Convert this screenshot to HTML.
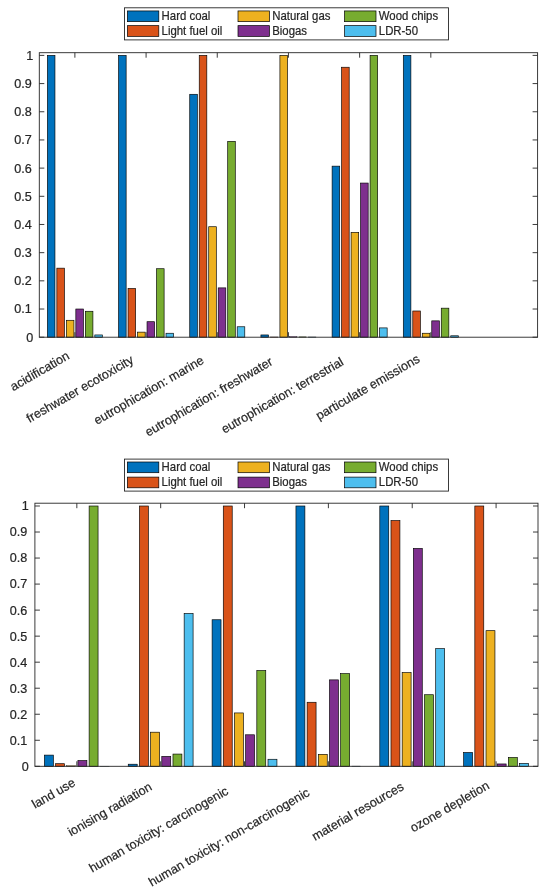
<!DOCTYPE html><html><head><meta charset="utf-8"><title>chart</title><style>html,body{margin:0;padding:0;background:#fff}svg{display:block}text{stroke:#262626;stroke-width:0.22px;font-family:"Liberation Sans",sans-serif;fill:#262626}</style></head><body>
<svg width="550" height="895" viewBox="0 0 550 895">
<rect width="550" height="895" fill="#fff"/>
<rect x="47.37" y="55.40" width="7.59" height="281.80" fill="#0072BD" stroke="#000" stroke-width="0.65"/>
<rect x="56.86" y="268.16" width="7.59" height="69.04" fill="#D95319" stroke="#000" stroke-width="0.65"/>
<rect x="66.35" y="320.29" width="7.59" height="16.91" fill="#EDB120" stroke="#000" stroke-width="0.65"/>
<rect x="75.84" y="309.02" width="7.59" height="28.18" fill="#7E2F8E" stroke="#000" stroke-width="0.65"/>
<rect x="85.33" y="311.27" width="7.59" height="25.93" fill="#77AC30" stroke="#000" stroke-width="0.65"/>
<rect x="94.82" y="334.95" width="7.59" height="2.25" fill="#4DBEEE" stroke="#000" stroke-width="0.65"/>
<rect x="118.55" y="55.40" width="7.59" height="281.80" fill="#0072BD" stroke="#000" stroke-width="0.65"/>
<rect x="128.04" y="288.45" width="7.59" height="48.75" fill="#D95319" stroke="#000" stroke-width="0.65"/>
<rect x="137.54" y="332.13" width="7.59" height="5.07" fill="#EDB120" stroke="#000" stroke-width="0.65"/>
<rect x="147.03" y="321.70" width="7.59" height="15.50" fill="#7E2F8E" stroke="#000" stroke-width="0.65"/>
<rect x="156.52" y="268.72" width="7.59" height="68.48" fill="#77AC30" stroke="#000" stroke-width="0.65"/>
<rect x="166.01" y="333.25" width="7.59" height="3.95" fill="#4DBEEE" stroke="#000" stroke-width="0.65"/>
<rect x="189.74" y="94.29" width="7.59" height="242.91" fill="#0072BD" stroke="#000" stroke-width="0.65"/>
<rect x="199.23" y="55.40" width="7.59" height="281.80" fill="#D95319" stroke="#000" stroke-width="0.65"/>
<rect x="208.72" y="226.73" width="7.59" height="110.47" fill="#EDB120" stroke="#000" stroke-width="0.65"/>
<rect x="218.21" y="287.88" width="7.59" height="49.31" fill="#7E2F8E" stroke="#000" stroke-width="0.65"/>
<rect x="227.70" y="141.35" width="7.59" height="195.85" fill="#77AC30" stroke="#000" stroke-width="0.65"/>
<rect x="237.20" y="326.77" width="7.59" height="10.43" fill="#4DBEEE" stroke="#000" stroke-width="0.65"/>
<rect x="260.92" y="334.95" width="7.59" height="2.25" fill="#0072BD" stroke="#000" stroke-width="0.65"/>
<rect x="270.42" y="336.97" width="7.59" height="0.23" fill="#D95319" stroke="#000" stroke-width="0.35"/>
<rect x="279.91" y="55.40" width="7.59" height="281.80" fill="#EDB120" stroke="#000" stroke-width="0.65"/>
<rect x="289.40" y="336.64" width="7.59" height="0.56" fill="#7E2F8E" stroke="#000" stroke-width="0.35"/>
<rect x="298.89" y="336.86" width="7.59" height="0.34" fill="#77AC30" stroke="#000" stroke-width="0.35"/>
<rect x="308.38" y="336.97" width="7.59" height="0.23" fill="#4DBEEE" stroke="#000" stroke-width="0.35"/>
<rect x="332.11" y="166.15" width="7.59" height="171.05" fill="#0072BD" stroke="#000" stroke-width="0.65"/>
<rect x="341.60" y="67.24" width="7.59" height="269.96" fill="#D95319" stroke="#000" stroke-width="0.65"/>
<rect x="351.09" y="232.37" width="7.59" height="104.83" fill="#EDB120" stroke="#000" stroke-width="0.65"/>
<rect x="360.58" y="183.06" width="7.59" height="154.14" fill="#7E2F8E" stroke="#000" stroke-width="0.65"/>
<rect x="370.08" y="55.40" width="7.59" height="281.80" fill="#77AC30" stroke="#000" stroke-width="0.65"/>
<rect x="379.57" y="327.90" width="7.59" height="9.30" fill="#4DBEEE" stroke="#000" stroke-width="0.65"/>
<rect x="403.30" y="55.40" width="7.59" height="281.80" fill="#0072BD" stroke="#000" stroke-width="0.65"/>
<rect x="412.79" y="310.99" width="7.59" height="26.21" fill="#D95319" stroke="#000" stroke-width="0.65"/>
<rect x="422.28" y="333.25" width="7.59" height="3.95" fill="#EDB120" stroke="#000" stroke-width="0.65"/>
<rect x="431.77" y="320.86" width="7.59" height="16.34" fill="#7E2F8E" stroke="#000" stroke-width="0.65"/>
<rect x="441.26" y="308.17" width="7.59" height="29.03" fill="#77AC30" stroke="#000" stroke-width="0.65"/>
<rect x="450.75" y="335.79" width="7.59" height="1.41" fill="#4DBEEE" stroke="#000" stroke-width="0.65"/>
<rect x="39.30" y="52.70" width="498.30" height="284.50" fill="none" stroke="#262626" stroke-width="0.9"/>
<path d="M39.30 337.20h5M537.60 337.20h-5" stroke="#262626" stroke-width="0.9" fill="none"/>
<text x="33.29" y="341.60" font-size="12.6" text-anchor="end">0</text>
<path d="M39.30 309.02h5M537.60 309.02h-5" stroke="#262626" stroke-width="0.9" fill="none"/>
<text x="31.78" y="313.42" font-size="12.6" text-anchor="end">0.1</text>
<path d="M39.30 280.84h5M537.60 280.84h-5" stroke="#262626" stroke-width="0.9" fill="none"/>
<text x="31.78" y="285.24" font-size="12.6" text-anchor="end">0.2</text>
<path d="M39.30 252.66h5M537.60 252.66h-5" stroke="#262626" stroke-width="0.9" fill="none"/>
<text x="31.78" y="257.06" font-size="12.6" text-anchor="end">0.3</text>
<path d="M39.30 224.48h5M537.60 224.48h-5" stroke="#262626" stroke-width="0.9" fill="none"/>
<text x="31.78" y="228.88" font-size="12.6" text-anchor="end">0.4</text>
<path d="M39.30 196.30h5M537.60 196.30h-5" stroke="#262626" stroke-width="0.9" fill="none"/>
<text x="31.78" y="200.70" font-size="12.6" text-anchor="end">0.5</text>
<path d="M39.30 168.12h5M537.60 168.12h-5" stroke="#262626" stroke-width="0.9" fill="none"/>
<text x="31.78" y="172.52" font-size="12.6" text-anchor="end">0.6</text>
<path d="M39.30 139.94h5M537.60 139.94h-5" stroke="#262626" stroke-width="0.9" fill="none"/>
<text x="31.78" y="144.34" font-size="12.6" text-anchor="end">0.7</text>
<path d="M39.30 111.76h5M537.60 111.76h-5" stroke="#262626" stroke-width="0.9" fill="none"/>
<text x="31.78" y="116.16" font-size="12.6" text-anchor="end">0.8</text>
<path d="M39.30 83.58h5M537.60 83.58h-5" stroke="#262626" stroke-width="0.9" fill="none"/>
<text x="31.78" y="87.98" font-size="12.6" text-anchor="end">0.9</text>
<path d="M39.30 55.40h5M537.60 55.40h-5" stroke="#262626" stroke-width="0.9" fill="none"/>
<text x="33.29" y="59.80" font-size="12.6" text-anchor="end">1</text>
<path d="M74.89 337.20v-5M74.89 52.70v5" stroke="#262626" stroke-width="0.9" fill="none"/>
<text transform="translate(70.37 358.27) rotate(-30)" font-size="12.6" text-anchor="end">acidification</text>
<path d="M146.08 337.20v-5M146.08 52.70v5" stroke="#262626" stroke-width="0.9" fill="none"/>
<text transform="translate(134.36 362.42) rotate(-30)" font-size="12.6" text-anchor="end">freshwater ecotoxicity</text>
<path d="M217.26 337.20v-5M217.26 52.70v5" stroke="#262626" stroke-width="0.9" fill="none"/>
<text transform="translate(204.93 362.78) rotate(-30)" font-size="12.6" text-anchor="end">eutrophication: marine</text>
<path d="M288.45 337.20v-5M288.45 52.70v5" stroke="#262626" stroke-width="0.9" fill="none"/>
<text transform="translate(273.67 364.19) rotate(-30)" font-size="12.6" text-anchor="end">eutrophication: freshwater</text>
<path d="M359.64 337.20v-5M359.64 52.70v5" stroke="#262626" stroke-width="0.9" fill="none"/>
<text transform="translate(344.44 364.43) rotate(-30)" font-size="12.6" text-anchor="end">eutrophication: terrestrial</text>
<path d="M430.82 337.20v-5M430.82 52.70v5" stroke="#262626" stroke-width="0.9" fill="none"/>
<text transform="translate(420.75 361.47) rotate(-30)" font-size="12.6" text-anchor="end">particulate emissions</text>
<rect x="124.5" y="7.8" width="324.0" height="32.10" fill="#fff" stroke="#262626" stroke-width="0.9"/>
<rect x="127.4" y="10.95" width="31.4" height="10.7" fill="#0072BD" stroke="#000" stroke-width="0.7"/>
<text transform="translate(161.60 20.25) scale(0.95 1)" font-size="12">Hard coal</text>
<rect x="127.4" y="25.65" width="31.4" height="10.7" fill="#D95319" stroke="#000" stroke-width="0.7"/>
<text transform="translate(161.60 34.95) scale(0.95 1)" font-size="12">Light fuel oil</text>
<rect x="238.0" y="10.95" width="31.4" height="10.7" fill="#EDB120" stroke="#000" stroke-width="0.7"/>
<text transform="translate(272.20 20.25) scale(0.95 1)" font-size="12">Natural gas</text>
<rect x="238.0" y="25.65" width="31.4" height="10.7" fill="#7E2F8E" stroke="#000" stroke-width="0.7"/>
<text transform="translate(272.20 34.95) scale(0.95 1)" font-size="12">Biogas</text>
<rect x="344.6" y="10.95" width="31.4" height="10.7" fill="#77AC30" stroke="#000" stroke-width="0.7"/>
<text transform="translate(378.80 20.25) scale(0.95 1)" font-size="12">Wood chips</text>
<rect x="344.6" y="25.65" width="31.4" height="10.7" fill="#4DBEEE" stroke="#000" stroke-width="0.7"/>
<text transform="translate(378.80 34.95) scale(0.95 1)" font-size="12">LDR-50</text>
<rect x="44.40" y="755.11" width="8.94" height="11.19" fill="#0072BD" stroke="#000" stroke-width="0.65"/>
<rect x="55.58" y="763.70" width="8.94" height="2.60" fill="#D95319" stroke="#000" stroke-width="0.65"/>
<rect x="66.76" y="765.78" width="8.94" height="0.52" fill="#EDB120" stroke="#000" stroke-width="0.35"/>
<rect x="77.94" y="760.57" width="8.94" height="5.73" fill="#7E2F8E" stroke="#000" stroke-width="0.65"/>
<rect x="89.12" y="506.00" width="8.94" height="260.30" fill="#77AC30" stroke="#000" stroke-width="0.65"/>
<rect x="100.30" y="766.17" width="8.94" height="0.13" fill="#4DBEEE" stroke="#000" stroke-width="0.35"/>
<rect x="128.25" y="764.22" width="8.94" height="2.08" fill="#0072BD" stroke="#000" stroke-width="0.65"/>
<rect x="139.43" y="506.00" width="8.94" height="260.30" fill="#D95319" stroke="#000" stroke-width="0.65"/>
<rect x="150.61" y="732.20" width="8.94" height="34.10" fill="#EDB120" stroke="#000" stroke-width="0.65"/>
<rect x="161.79" y="756.41" width="8.94" height="9.89" fill="#7E2F8E" stroke="#000" stroke-width="0.65"/>
<rect x="172.97" y="754.07" width="8.94" height="12.23" fill="#77AC30" stroke="#000" stroke-width="0.65"/>
<rect x="184.15" y="613.50" width="8.94" height="152.80" fill="#4DBEEE" stroke="#000" stroke-width="0.65"/>
<rect x="212.10" y="619.75" width="8.94" height="146.55" fill="#0072BD" stroke="#000" stroke-width="0.65"/>
<rect x="223.28" y="506.00" width="8.94" height="260.30" fill="#D95319" stroke="#000" stroke-width="0.65"/>
<rect x="234.46" y="712.94" width="8.94" height="53.36" fill="#EDB120" stroke="#000" stroke-width="0.65"/>
<rect x="245.64" y="734.80" width="8.94" height="31.50" fill="#7E2F8E" stroke="#000" stroke-width="0.65"/>
<rect x="256.82" y="670.51" width="8.94" height="95.79" fill="#77AC30" stroke="#000" stroke-width="0.65"/>
<rect x="268.00" y="759.27" width="8.94" height="7.03" fill="#4DBEEE" stroke="#000" stroke-width="0.65"/>
<rect x="295.95" y="506.00" width="8.94" height="260.30" fill="#0072BD" stroke="#000" stroke-width="0.65"/>
<rect x="307.13" y="702.27" width="8.94" height="64.03" fill="#D95319" stroke="#000" stroke-width="0.65"/>
<rect x="318.31" y="754.33" width="8.94" height="11.97" fill="#EDB120" stroke="#000" stroke-width="0.65"/>
<rect x="329.49" y="679.88" width="8.94" height="86.42" fill="#7E2F8E" stroke="#000" stroke-width="0.65"/>
<rect x="340.67" y="673.63" width="8.94" height="92.67" fill="#77AC30" stroke="#000" stroke-width="0.65"/>
<rect x="351.85" y="766.09" width="8.94" height="0.21" fill="#4DBEEE" stroke="#000" stroke-width="0.35"/>
<rect x="379.80" y="506.00" width="8.94" height="260.30" fill="#0072BD" stroke="#000" stroke-width="0.65"/>
<rect x="390.98" y="520.58" width="8.94" height="245.72" fill="#D95319" stroke="#000" stroke-width="0.65"/>
<rect x="402.16" y="672.59" width="8.94" height="93.71" fill="#EDB120" stroke="#000" stroke-width="0.65"/>
<rect x="413.34" y="548.43" width="8.94" height="217.87" fill="#7E2F8E" stroke="#000" stroke-width="0.65"/>
<rect x="424.52" y="694.72" width="8.94" height="71.58" fill="#77AC30" stroke="#000" stroke-width="0.65"/>
<rect x="435.70" y="648.64" width="8.94" height="117.66" fill="#4DBEEE" stroke="#000" stroke-width="0.65"/>
<rect x="463.65" y="752.50" width="8.94" height="13.80" fill="#0072BD" stroke="#000" stroke-width="0.65"/>
<rect x="474.83" y="506.00" width="8.94" height="260.30" fill="#D95319" stroke="#000" stroke-width="0.65"/>
<rect x="486.01" y="630.68" width="8.94" height="135.62" fill="#EDB120" stroke="#000" stroke-width="0.65"/>
<rect x="497.19" y="763.96" width="8.94" height="2.34" fill="#7E2F8E" stroke="#000" stroke-width="0.65"/>
<rect x="508.37" y="757.45" width="8.94" height="8.85" fill="#77AC30" stroke="#000" stroke-width="0.65"/>
<rect x="519.55" y="763.44" width="8.94" height="2.86" fill="#4DBEEE" stroke="#000" stroke-width="0.65"/>
<rect x="34.90" y="503.20" width="503.10" height="263.10" fill="none" stroke="#262626" stroke-width="0.9"/>
<path d="M34.90 766.30h5M538.00 766.30h-5" stroke="#262626" stroke-width="0.9" fill="none"/>
<text x="28.89" y="770.70" font-size="12.6" text-anchor="end">0</text>
<path d="M34.90 740.27h5M538.00 740.27h-5" stroke="#262626" stroke-width="0.9" fill="none"/>
<text x="27.38" y="744.67" font-size="12.6" text-anchor="end">0.1</text>
<path d="M34.90 714.24h5M538.00 714.24h-5" stroke="#262626" stroke-width="0.9" fill="none"/>
<text x="27.38" y="718.64" font-size="12.6" text-anchor="end">0.2</text>
<path d="M34.90 688.21h5M538.00 688.21h-5" stroke="#262626" stroke-width="0.9" fill="none"/>
<text x="27.38" y="692.61" font-size="12.6" text-anchor="end">0.3</text>
<path d="M34.90 662.18h5M538.00 662.18h-5" stroke="#262626" stroke-width="0.9" fill="none"/>
<text x="27.38" y="666.58" font-size="12.6" text-anchor="end">0.4</text>
<path d="M34.90 636.15h5M538.00 636.15h-5" stroke="#262626" stroke-width="0.9" fill="none"/>
<text x="27.38" y="640.55" font-size="12.6" text-anchor="end">0.5</text>
<path d="M34.90 610.12h5M538.00 610.12h-5" stroke="#262626" stroke-width="0.9" fill="none"/>
<text x="27.38" y="614.52" font-size="12.6" text-anchor="end">0.6</text>
<path d="M34.90 584.09h5M538.00 584.09h-5" stroke="#262626" stroke-width="0.9" fill="none"/>
<text x="27.38" y="588.49" font-size="12.6" text-anchor="end">0.7</text>
<path d="M34.90 558.06h5M538.00 558.06h-5" stroke="#262626" stroke-width="0.9" fill="none"/>
<text x="27.38" y="562.46" font-size="12.6" text-anchor="end">0.8</text>
<path d="M34.90 532.03h5M538.00 532.03h-5" stroke="#262626" stroke-width="0.9" fill="none"/>
<text x="27.38" y="536.43" font-size="12.6" text-anchor="end">0.9</text>
<path d="M34.90 506.00h5M538.00 506.00h-5" stroke="#262626" stroke-width="0.9" fill="none"/>
<text x="28.89" y="510.40" font-size="12.6" text-anchor="end">1</text>
<path d="M76.83 766.30v-5M76.83 503.20v5" stroke="#262626" stroke-width="0.9" fill="none"/>
<text transform="translate(76.33 785.04) rotate(-30)" font-size="12.6" text-anchor="end">land use</text>
<path d="M160.68 766.30v-5M160.68 503.20v5" stroke="#262626" stroke-width="0.9" fill="none"/>
<text transform="translate(152.76 789.33) rotate(-30)" font-size="12.6" text-anchor="end">ionising radiation</text>
<path d="M244.53 766.30v-5M244.53 503.20v5" stroke="#262626" stroke-width="0.9" fill="none"/>
<text transform="translate(229.29 793.55) rotate(-30)" font-size="12.6" text-anchor="end">human toxicity: carcinogenic</text>
<path d="M328.38 766.30v-5M328.38 503.20v5" stroke="#262626" stroke-width="0.9" fill="none"/>
<text transform="translate(310.53 795.06) rotate(-30)" font-size="12.6" text-anchor="end">human toxicity: non-carcinogenic</text>
<path d="M412.23 766.30v-5M412.23 503.20v5" stroke="#262626" stroke-width="0.9" fill="none"/>
<text transform="translate(404.68 789.11) rotate(-30)" font-size="12.6" text-anchor="end">material resources</text>
<path d="M496.08 766.30v-5M496.08 503.20v5" stroke="#262626" stroke-width="0.9" fill="none"/>
<text transform="translate(490.33 788.07) rotate(-30)" font-size="12.6" text-anchor="end">ozone depletion</text>
<rect x="124.5" y="459.1" width="324.0" height="32.00" fill="#fff" stroke="#262626" stroke-width="0.9"/>
<rect x="127.4" y="462.00" width="31.4" height="10.7" fill="#0072BD" stroke="#000" stroke-width="0.7"/>
<text transform="translate(161.60 471.30) scale(0.95 1)" font-size="12">Hard coal</text>
<rect x="127.4" y="477.10" width="31.4" height="10.7" fill="#D95319" stroke="#000" stroke-width="0.7"/>
<text transform="translate(161.60 486.40) scale(0.95 1)" font-size="12">Light fuel oil</text>
<rect x="238.0" y="462.00" width="31.4" height="10.7" fill="#EDB120" stroke="#000" stroke-width="0.7"/>
<text transform="translate(272.20 471.30) scale(0.95 1)" font-size="12">Natural gas</text>
<rect x="238.0" y="477.10" width="31.4" height="10.7" fill="#7E2F8E" stroke="#000" stroke-width="0.7"/>
<text transform="translate(272.20 486.40) scale(0.95 1)" font-size="12">Biogas</text>
<rect x="344.6" y="462.00" width="31.4" height="10.7" fill="#77AC30" stroke="#000" stroke-width="0.7"/>
<text transform="translate(378.80 471.30) scale(0.95 1)" font-size="12">Wood chips</text>
<rect x="344.6" y="477.10" width="31.4" height="10.7" fill="#4DBEEE" stroke="#000" stroke-width="0.7"/>
<text transform="translate(378.80 486.40) scale(0.95 1)" font-size="12">LDR-50</text>
</svg></body></html>
